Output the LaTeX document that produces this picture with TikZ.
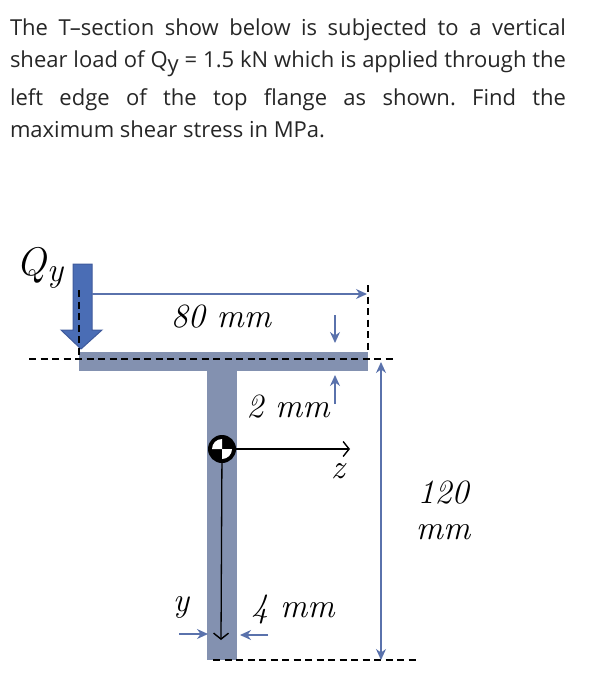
\documentclass[tikz,border=0pt]{standalone}
\usepackage{fontspec}
\newfontfamily\prosefont{Open Sans}
\usetikzlibrary{arrows.meta}
\definecolor{sectiongray}{HTML}{8391B0}
\definecolor{dimblue}{HTML}{5A72AC}
\definecolor{loadblue}{HTML}{4A6DB5}
\definecolor{loadedge}{HTML}{3F5A9C}

\begin{document}
\frenchspacing
\begin{tikzpicture}[x=1pt,y=-1pt,semithick]
  \tikzstyle{every node}=[inner sep=0pt,outer sep=0pt]
  \tikzstyle{prose}=[anchor=base west,text=black!85,font=\prosefont\fontsize{22}{26}\selectfont]
  \tikzstyle{dimtext}=[text=black,font=\itshape\fontsize{34}{38}\selectfont]
  \tikzstyle{dimline}=[-{Stealth[length=11pt,width=10pt]},draw=dimblue,fill=dimblue,line width=1.4pt]
  \tikzstyle{guide}=[draw=black,line width=2pt,dash pattern=on 7pt off 4.5pt]
  \tikzstyle{axis}=[-{Straight Barb[length=6pt,width=15pt,line width=1.4pt]},draw=black,line width=1.3pt]

  \useasboundingbox (0,0) rectangle (602,700);

  % question
  \node[prose] (line1) at (10,36)  {\makebox[556pt][s]{The T–section show below is subjected to a vertical}};
  \node[prose] (line2) at (10,68)  {\makebox[556pt][s]{shear load of Q\raisebox{-4pt}{y} = 1.5 kN which is applied through the}};
  \node[prose] (line3) at (10,106) {\makebox[556pt][s]{left edge of the top flange as shown. Find the}};
  \node[prose] (line4) at (10,138) {maximum shear stress in MPa.};

  % section
  \fill[sectiongray] (79,352) rectangle (368,371);
  \fill[sectiongray] (207,371) rectangle (237,660);

  % load arrow
  \filldraw[fill=loadblue,draw=loadedge,line width=1pt]
    (73,264) -- (92,264) -- (92,330) -- (102,330) -- (81,349) -- (61,330) -- (73,330) -- cycle;

  % free ends
  \coordinate (flangeL) at (79,290);
  \coordinate (cornerL) at (79,359);
  \coordinate (flangeR) at (368,285);
  \coordinate (cornerR) at (368,352);
  \coordinate (midA)    at (29,359);
  \coordinate (midB)    at (395,359);
  \coordinate (baseA)   at (213,660);
  \coordinate (baseB)   at (418,660);
  \coordinate (loadR)   at (92,294);
  \coordinate (loadE)   at (367,294);
  \coordinate (topA)    at (335,315);
  \coordinate (topB)    at (335,343);
  \coordinate (botA)    at (335,404);
  \coordinate (botB)    at (335,375);
  \coordinate (heightA) at (381,362);
  \coordinate (heightB) at (381,660);
  \coordinate (webLA)   at (179,634);
  \coordinate (webLB)   at (208,634);
  \coordinate (webRA)   at (268,635);
  \coordinate (webRB)   at (240,635);
  \coordinate (zEnd)    at (350,449);
  \coordinate (yEnd)    at (221,640);

  % dashed lines
  \draw[guide] (midA) -- (midB);
  \draw[guide] (flangeL) -- (cornerL);
  \draw[guide] (flangeR) -- (cornerR);
  \draw[guide] (baseA) -- (baseB);

  % dimensions
  \draw[dimline] (loadR) -- (loadE);
  \draw[dimline] (topA) -- (topB);
  \draw[dimline] (botA) -- (botB);
  \draw[dimline] (webLA) -- (webLB);
  \draw[dimline] (webRA) -- (webRB);
  \draw[dimline,{Stealth[length=11pt,width=10pt]}-{Stealth[length=11pt,width=10pt]}] (heightA) -- (heightB);

  % axes and centroid
  \node[circle,fill=black,minimum size=28pt] (centroid) at (222,449) {};
  \fill[white] (222,449) -- (222,439) arc[start angle=90,end angle=180,radius=10pt] -- cycle;
  \fill[white] (222,449) -- (222,459) arc[start angle=270,end angle=360,radius=10pt] -- cycle;
  \draw[axis] (centroid) -- (zEnd);
  \draw[axis] (centroid) -- (yEnd);

  % labels
  \node[dimtext] (qlabel)  at (40,268) {{\fontsize{40}{44}\selectfont Q}\raisebox{-6pt}{y}};
  \node[dimtext] (wlabel)  at (221,317) {80 mm};
  \node[dimtext] (tlabel)  at (288,407) {2 mm};
  \node[dimtext] (zlabel)  at (338,471) {z};
  \node[dimtext] (hlabel)  at (443,493) {120};
  \node[dimtext] (mlabel)  at (443,532) {mm};
  \node[dimtext] (ylabel)  at (181,607) {y};
  \node[dimtext] (blabel)  at (293,609) {4 mm};
\end{tikzpicture}
\end{document}
